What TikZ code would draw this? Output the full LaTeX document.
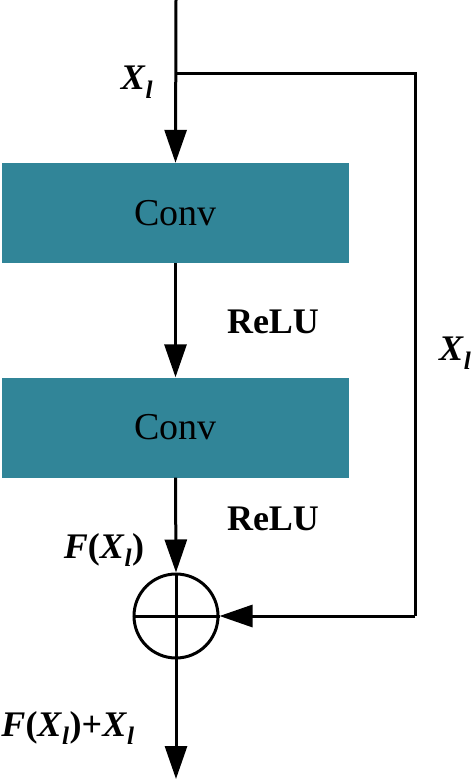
\documentclass[tikz,border=0pt]{standalone}
\usepackage{fontspec}
\setmainfont{Liberation Serif}
\usetikzlibrary{arrows.meta}
\definecolor{convteal}{RGB}{49,133,152}
\newcommand{\Xl}{\textbf{\textit{X}\textsubscript{\textit{l}}}}
\begin{document}
\begin{tikzpicture}[x=1pt,y=-1pt,
  convbox/.style={fill=convteal,draw=none,minimum width=347pt,minimum height=100pt,inner sep=0pt,font=\fontsize{38}{44}\selectfont},
  conn/.style={line width=3pt},
  arr/.style={conn,-{Triangle[length=33pt,width=22pt]}},
  lbl/.style={font=\fontsize{36}{42}\selectfont\bfseries,inner sep=0pt},
  sumnode/.style={circle,draw,line width=3pt,minimum size=84pt,inner sep=0pt}]
\useasboundingbox (0,0) rectangle (474,779);
\node[convbox] (c1) at (175.5,213) {Conv};
\node[convbox] (c2) at (175.5,427.5) {Conv};
\node[sumnode] (sum) at (176,616) {};
\draw[line width=3pt] (sum.north) -- (sum.south);
\draw[line width=3pt] (sum.west) -- (sum.east);
\coordinate (top) at (176,0);
\coordinate (br) at (176,73);
\coordinate (tr) at (415,73);
\coordinate (rr) at (415,616);
\coordinate (bot) at (176,779);
\draw[arr] (top) -- (c1.north);
\draw[conn] (br) -- (tr) -- (rr);
\draw[arr] (rr) -- (sum.east);
\draw[arr] (c1.south) -- (c2.north);
\draw[arr] (c2.south) -- (sum.north);
\draw[arr] (sum.south) -- (bot);
\node[lbl] (xtop) at (137,82) {\Xl};
\node[lbl,anchor=west] (xright) at (439,353) {\Xl};
\node[lbl] (relu1) at (273,322) {ReLU};
\node[lbl] (relu2) at (273,519) {ReLU};
\node[lbl] (fx) at (104,550) {\textit{F}(\Xl)};
\node[lbl] (fxx) at (68,728) {\textit{F}(\Xl)+\Xl};
\end{tikzpicture}
\end{document}
